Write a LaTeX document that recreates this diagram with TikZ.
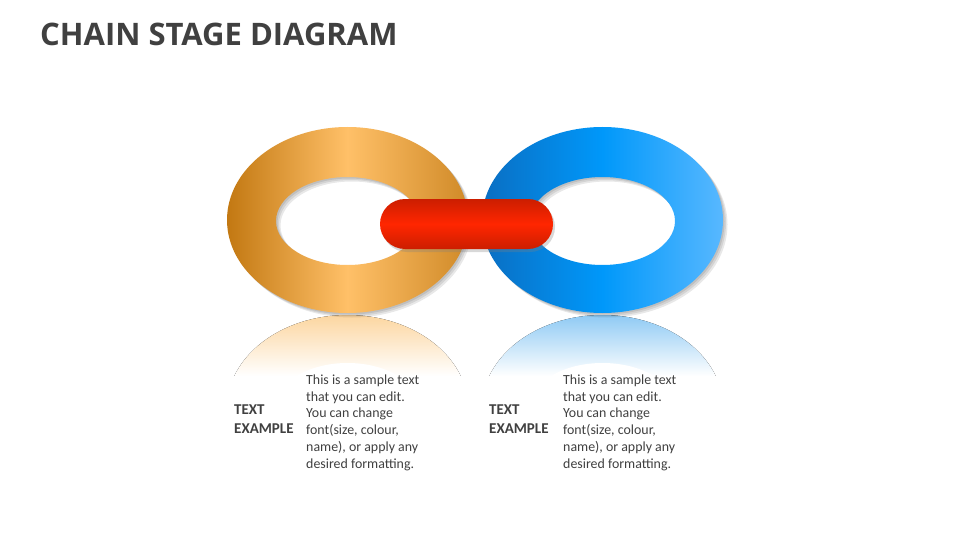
\documentclass[tikz,border=0pt]{standalone}
\usepackage{fontspec}
\setmainfont{Carlito}
\newfontfamily\titlefont{Open Sans}
\usetikzlibrary{shadows}
\definecolor{txt}{HTML}{404040}
\definecolor{oL}{HTML}{C27812}
\definecolor{oM}{HTML}{FFC068}
\definecolor{oR}{HTML}{D08A28}
\definecolor{bL}{HTML}{0A6EC2}
\definecolor{bM}{HTML}{0098FA}
\definecolor{bR}{HTML}{58B8FF}
\definecolor{rE}{HTML}{CC1E00}
\definecolor{rM}{HTML}{FF2600}
\definecolor{oRef}{HTML}{FCD6A0}
\definecolor{bRef}{HTML}{8FCAF4}
\tikzset{
  titletext/.style={font=\titlefont\bfseries\fontsize{31}{37}\selectfont, text=txt, inner sep=0pt},
  headtext/.style={font=\bfseries\fontsize{15}{18.5}\selectfont, text=txt, align=left, inner sep=0pt},
  bodytext/.style={font=\fontsize{13.9}{16.8}\selectfont, text=txt, align=left, inner sep=0pt},
  ringshadow/.style={fill=black, opacity=.09, even odd rule},
  linkbar/.style={rectangle, rounded corners=25pt, minimum width=173pt, minimum height=50pt,
    top color=rE, bottom color=rE, middle color=rM, inner sep=0pt,
    drop shadow={opacity=.3, shadow xshift=2pt, shadow yshift=-3pt}},
}
\begin{document}
\begin{tikzpicture}[x=1pt,y=-1pt]
\useasboundingbox[fill=white] (0,0) rectangle (960,540);
\node[titletext, anchor=base west] (title) at (40,46) {CHAIN STAGE DIAGRAM};

% reflections
\begin{scope}
\clip (347.5,408) ellipse[x radius=120.5pt, y radius=93pt];
\fill[top color=oRef, bottom color=white] (220,315) rectangle (480,376);
\fill[white] (347.5,407) ellipse[x radius=71.5pt, y radius=44pt];
\end{scope}
\begin{scope}
\clip (602.5,408) ellipse[x radius=120.5pt, y radius=93pt];
\fill[top color=bRef, bottom color=white] (475,315) rectangle (735,376);
\fill[white] (602.5,407) ellipse[x radius=72.5pt, y radius=44pt];
\end{scope}

% ring shadows (soft, layered)
\foreach \d in {1.5,3,4.5}{
  \fill[ringshadow] (347.5+\d,220+\d) ellipse[x radius=120.5pt, y radius=93pt] (347.5+\d,221+\d) ellipse[x radius=71.5pt, y radius=44pt];
  \fill[ringshadow] (602.5+\d,220+\d) ellipse[x radius=120.5pt, y radius=93pt] (602.5+\d,221+\d) ellipse[x radius=72.5pt, y radius=44pt];
}

% rings
\path[left color=oL, right color=oR, middle color=oM, even odd rule]
  (347.5,220) ellipse[x radius=120.5pt, y radius=93pt] (347.5,221) ellipse[x radius=71.5pt, y radius=44pt];
\path[left color=bL, right color=bR, middle color=bM, even odd rule]
  (602.5,220) ellipse[x radius=120.5pt, y radius=93pt] (602.5,221) ellipse[x radius=72.5pt, y radius=44pt];

% link
\node[linkbar] (link) at (466.5,224) {};

% texts
\node[headtext, anchor=north west] (h1) at (234,405) {TEXT\\EXAMPLE};
\node[bodytext, anchor=north west] (p1) at (306,374.5) {This is a sample text\\that you can edit.\\You can change\\font(size, colour,\\name), or apply any\\desired formatting.};
\node[headtext, anchor=north west] (h2) at (489,405) {TEXT\\EXAMPLE};
\node[bodytext, anchor=north west] (p2) at (563,374.5) {This is a sample text\\that you can edit.\\You can change\\font(size, colour,\\name), or apply any\\desired formatting.};
\end{tikzpicture}
\end{document}
